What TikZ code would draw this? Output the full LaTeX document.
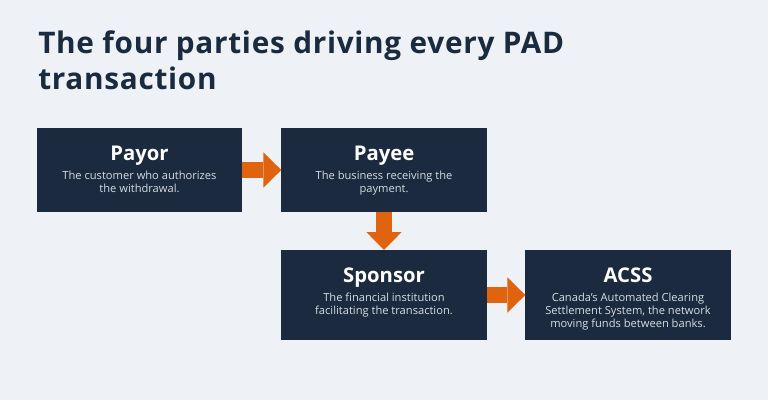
\documentclass[tikz,border=0pt]{standalone}
\usepackage{fontspec}
\setmainfont{Open Sans}
\usetikzlibrary{positioning, arrows.meta}
\definecolor{PageBg}{HTML}{EEF1F5}
\definecolor{BoxNavy}{HTML}{1B2A3E}
\definecolor{TitleInk}{HTML}{1A2B3F}
\definecolor{FlowOrange}{HTML}{E0630F}
\definecolor{DescGray}{HTML}{D6DDE5}
\begin{document}
\begin{tikzpicture}[x=0.75pt, y=-0.75pt,
    partybox/.style={fill=BoxNavy, minimum width=154pt, outer sep=0pt, inner sep=0pt},
    partyhead/.style={anchor=base, text=white, inner sep=0pt, font=\fontsize{15.2}{18}\selectfont\bfseries},
    partydesc/.style={anchor=north, text=DescGray, inner sep=0pt, align=center, font=\fontsize{8.35}{9.9}\selectfont},
    flow/.style={line width=12pt, FlowOrange, -{Triangle[length=13.5pt, width=26.5pt, line width=0pt]}}]
  \fill[PageBg] (0,0) rectangle (768,400);
  \node[anchor=north west, inner sep=0pt, align=left, text=TitleInk, font=\fontsize{22.3}{27}\selectfont\bfseries\addfontfeatures{LetterSpace=2.4}] (title) at (38,30.5)
    {The four parties driving every PAD\\transaction};
  % the four parties
  \foreach \n/\x/\y/\h/\t/\d in {
      payor/139.5/128/63pt/Payor/{The customer who authorizes\\the withdrawal.},
      payee/384/128/63pt/Payee/{The business receiving the\\payment.},
      sponsor/384/250/67.5pt/Sponsor/{The financial institution\\facilitating the transaction.},
      acss/628/250/67.5pt/ACSS/{Canada's Automated Clearing\\Settlement System, the network\\moving funds between banks.}}
  {
    \node[partybox, minimum height=\h, anchor=north] (\n) at (\x,\y) {};
    \node[partyhead] (\n head) at (\x,\y+32.5) {\t};
    \node[partydesc] (\n desc) at (\x,\y+42.6) {\d};
  }
  % money flow
  \draw[flow] (payor) -- (payee);
  \draw[flow] (payee) -- (sponsor);
  \draw[flow] (sponsor) -- (acss);
\end{tikzpicture}
\end{document}
